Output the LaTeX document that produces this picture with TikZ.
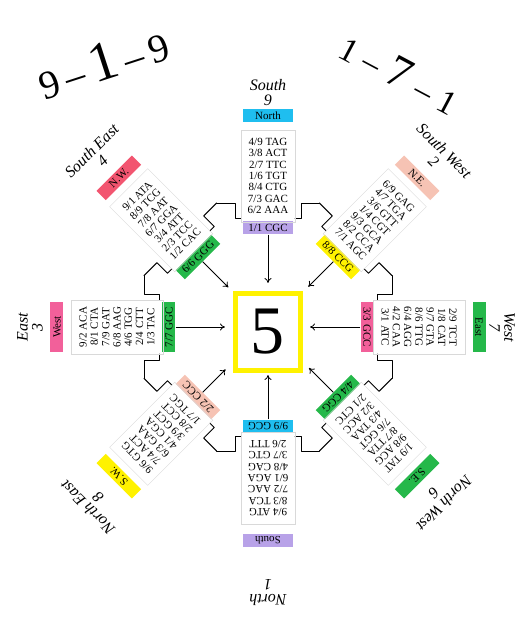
\documentclass[tikz,border=0pt]{standalone}
\usepackage{fontspec}
\setmainfont{Liberation Serif}
\usetikzlibrary{arrows.meta}
\definecolor{Lilac}{HTML}{B8A2E8}
\definecolor{Sky}{HTML}{1FBEEF}
\definecolor{Leaf}{HTML}{25B84A}
\definecolor{Lemon}{HTML}{FFF200}
\definecolor{Rose}{HTML}{F2609A}
\definecolor{Coral}{HTML}{F25570}
\definecolor{Blush}{HTML}{F6C3B4}

\begin{document}
\begin{tikzpicture}[x=1pt, y=1pt, >={To[length=5pt,width=7pt]},
    tag/.style={fill=#1, minimum width=50pt, minimum height=13pt, inner sep=1pt, transform shape, font=\fontsize{11}{11}\selectfont},
    codons/.style={draw=gray!30, minimum width=54pt, minimum height=92pt, inner sep=2pt, align=center, transform shape, font=\fontsize{11}{11.3}\selectfont},
    hand/.style={align=center, transform shape, font=\fontsize{16}{15}\selectfont\itshape},
    ring/.style={line width=0.9pt, line cap=round, line join=round},
    pointer/.style={->, line width=0.8pt}]
  \useasboundingbox (-268,-313) rectangle (255,327);

  % stepped octagon round the hub
  \foreach \a in {0,45,...,315}
    \draw[ring, rotate=\a] (-51.4,124) -- (-33,124) -- (-33,109) -- (-27,109)
                           (27,109) -- (33,109) -- (33,124) -- (51.4,124);

  \node[draw=Lemon, line width=5pt, minimum width=64pt, minimum height=76pt, font=\fontsize{68}{68}\selectfont] (five) at (0,-5) {5};

  % north
  \begin{scope}[rotate=0]
    \node[tag=Lilac] (inN) at (0,99) {1/1 CGC};
    \node[codons] (listN) at (0,151) {4/9 TAG\\3/8 ACT\\2/7 TTC\\1/6 TGT\\8/4 CTG\\7/3 GAC\\6/2 AAA};
    \node[tag=Sky] (outN) at (0,211) {North};
    \node[hand] (handN) at (0,234) {South\\9};
    \coordinate (tipN) at (0,44);
  \end{scope}
  % north east
  \begin{scope}[rotate=-45]
    \node[tag=Lemon] (inNE) at (0,99) {8/8 CCG};
    \node[codons] (listNE) at (0,151) {6/9 GAG\\4/7 TGA\\3/6 GTT\\1/4 CGT\\9/3 GCA\\8/2 CCA\\7/1 AGC};
    \node[tag=Blush] (outNE) at (0,211) {N.E.};
    \node[hand] (handNE) at (0,242) {South West\\2};
    \coordinate (tipNE) at (0,57);
  \end{scope}
  % east
  \begin{scope}[rotate=-90]
    \node[tag=Rose] (inE) at (0,99) {3/3 GCC};
    \node[codons] (listE) at (0,151) {2/9 TCT\\1/8 CAT\\9/7 GTA\\8/6 TTG\\6/4 AGG\\4/2 CAA\\3/1 ATC};
    \node[tag=Leaf] (outE) at (0,211) {East};
    \node[hand] (handE) at (0,234) {West\\7};
    \coordinate (tipE) at (0,42);
  \end{scope}
  % south east
  \begin{scope}[rotate=-135]
    \node[tag=Leaf] (inSE) at (0,99) {4/4 CGG};
    \node[codons] (listSE) at (0,151) {1/9 TAT\\9/8 ACG\\8/7 TTA\\7/6 GGT\\4/3 TAA\\3/2 ACC\\2/1 CTC};
    \node[tag=Leaf] (outSE) at (0,211) {S.E.};
    \node[hand] (handSE) at (0,242) {North West\\6};
    \coordinate (tipSE) at (0,58);
  \end{scope}
  % south
  \begin{scope}[rotate=180]
    \node[tag=Sky] (inS) at (0,99) {9/9 GCG};
    \node[codons] (listS) at (0,151) {9/4 ATG\\8/3 TCA\\7/2 AAC\\6/1 AGA\\4/8 CAG\\3/7 GTC\\2/6 TTT};
    \node[tag=Lilac] (outS) at (0,213) {South};
    \node[hand] (handS) at (0,266) {North\\1};
    \coordinate (tipS) at (0,48);
  \end{scope}
  % south west
  \begin{scope}[rotate=135]
    \node[tag=Blush] (inSW) at (0,99) {2/2 CCC};
    \node[codons] (listSW) at (0,151) {9/6 GTG\\7/4 ACT\\6/3 GAA\\4/1 CGA\\3/9 GCT\\2/8 CCT\\1/7 TGC};
    \node[tag=Lemon] (outSW) at (0,211) {S.W.};
    \node[hand] (handSW) at (0,248) {North East\\8};
    \coordinate (tipSW) at (0,60);
  \end{scope}
  % west
  \begin{scope}[rotate=90]
    \node[tag=Leaf] (inW) at (0,99) {7/7 GGC};
    \node[codons] (listW) at (0,151) {9/2 ACA\\8/1 CTA\\7/9 GAT\\6/8 AAG\\4/6 TGG\\2/4 CTT\\1/3 TAC};
    \node[tag=Rose] (outW) at (0,211) {West};
    \node[hand] (handW) at (0,238) {East\\3};
    \coordinate (tipW) at (0,43);
  \end{scope}
  % north west
  \begin{scope}[rotate=45]
    \node[tag=Leaf] (inNW) at (0,99) {6/6 GGG};
    \node[codons] (listNW) at (0,151) {9/1 ATA\\8/9 TCG\\7/8 AAT\\6/7 GGA\\3/4 ATT\\2/3 TCC\\1/2 CAC};
    \node[tag=Coral] (outNW) at (0,211) {N.W.};
    \node[hand] (handNW) at (0,242) {South East\\4};
    \coordinate (tipNW) at (0,56);
  \end{scope}

  \draw[pointer] (inN) -- (tipN);
  \draw[pointer] (inNE) -- (tipNE);
  \draw[pointer] (inE) -- (tipE);
  \draw[pointer] (inSE) -- (tipSE);
  \draw[pointer] (inS) -- (tipS);
  \draw[pointer] (inSW) -- (tipSW);
  \draw[pointer] (inW) -- (tipW);
  \draw[pointer] (inNW) -- (tipNW);

  % corner sums
  \node[rotate=18, font=\fontsize{40}{40}\selectfont] (sumleft) at (-165,265) {9\,--\,{\fontsize{56}{56}\selectfont 1}\,--\,9};
  \node[rotate=-28, font=\fontsize{34}{34}\selectfont] (sumright) at (132,254) {1\;--\;{\fontsize{46}{46}\selectfont 7}\;--\;1};
\end{tikzpicture}
\end{document}
